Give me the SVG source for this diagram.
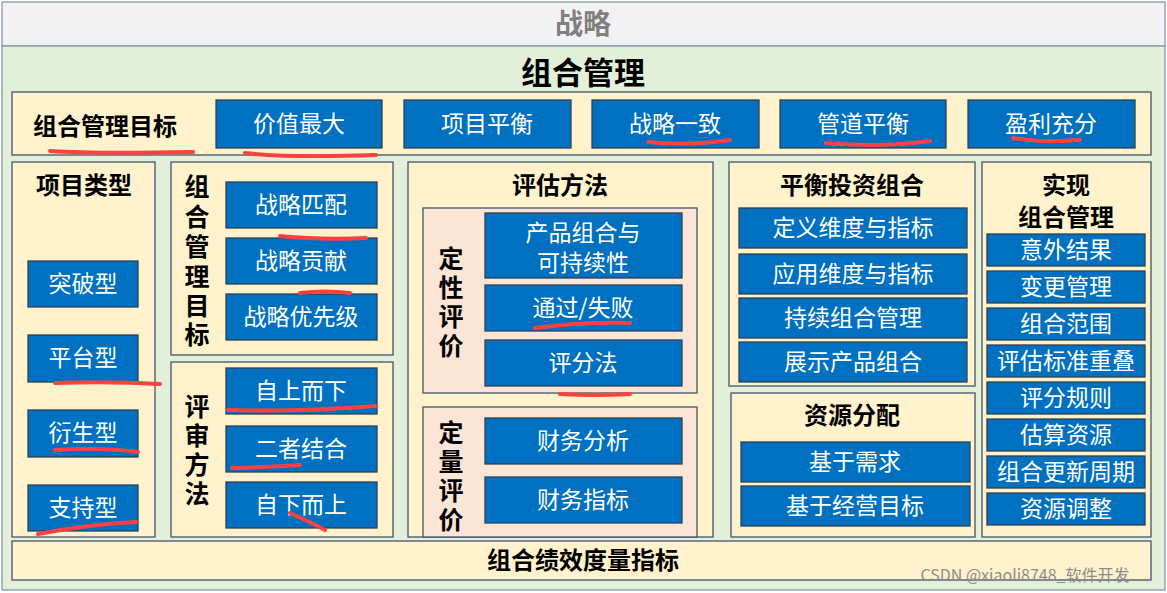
<svg xmlns="http://www.w3.org/2000/svg" width="1167" height="593" viewBox="0 0 1167 593">
<style>
text{font-family:"Noto Sans CJK SC","Liberation Sans",sans-serif;text-anchor:middle;dominant-baseline:central}
.y{fill:#fff2cc;stroke:#44546a;stroke-width:1.3}
.p{fill:#fbe5d6;stroke:#44546a;stroke-width:1.3}
.b{fill:#0070c0;stroke:#2f3f52;stroke-width:1.3}
.bt{fill:#fff;font-size:23px}
.h{fill:#000;font-size:24px;font-weight:bold}
.v{fill:#000;font-size:25px;font-weight:bold}
.r{fill:none;stroke:#ff4040;stroke-width:4;stroke-linecap:round}
</style>
<rect width="1167" height="593" fill="#fff"/>
<g id="title"><rect x="2" y="2" width="1163" height="44" fill="#f2f2f2" stroke="#8496b0" stroke-width="1.3"/><text x="583" y="22" font-size="28" font-weight="bold" fill="#7f7f7f">战略</text></g>
<g id="main"><rect x="2" y="46" width="1163" height="544" fill="#e2efd9" stroke="#8496b0" stroke-width="1.3"/><text x="583" y="70" font-size="31" font-weight="bold">组合管理</text></g>
<g id="goals"><rect class="y" x="12" y="92" width="1139" height="63"/><text class="h" x="105" y="124">组合管理目标</text>
<rect class="b" x="216" y="100" width="166" height="48"/><text class="bt" x="299" y="122">价值最大</text>
<rect class="b" x="404" y="100" width="167" height="48"/><text class="bt" x="487" y="122">项目平衡</text>
<rect class="b" x="592" y="100" width="167" height="48"/><text class="bt" x="675" y="122">战略一致</text>
<rect class="b" x="780" y="100" width="166" height="48"/><text class="bt" x="863" y="122">管道平衡</text>
<rect class="b" x="968" y="100" width="167" height="48"/><text class="bt" x="1051" y="122">盈利充分</text></g>
<g id="types"><rect class="y" x="12" y="162" width="143" height="375"/><text class="h" x="84" y="183">项目类型</text>
<rect class="b" x="28" y="261" width="110" height="46"/><text class="bt" x="83" y="282">突破型</text>
<rect class="b" x="28" y="335" width="110" height="47"/><text class="bt" x="83" y="356">平台型</text>
<rect class="b" x="28" y="410" width="110" height="47"/><text class="bt" x="83" y="431">衍生型</text>
<rect class="b" x="28" y="485" width="110" height="46"/><text class="bt" x="83" y="506">支持型</text></g>
<g id="goals2"><rect class="y" x="171" y="162" width="222" height="193"/>
<text class="v" x="197" y="185">组</text><text class="v" x="197" y="215">合</text><text class="v" x="197" y="245">管</text><text class="v" x="197" y="275">理</text><text class="v" x="197" y="304">目</text><text class="v" x="197" y="333">标</text>
<rect class="b" x="226" y="182" width="151" height="46"/><text class="bt" x="301" y="203">战略匹配</text>
<rect class="b" x="226" y="238" width="151" height="46"/><text class="bt" x="301" y="259">战略贡献</text>
<rect class="b" x="226" y="294" width="151" height="46"/><text class="bt" x="301" y="315">战略优先级</text></g>
<g id="review"><rect class="y" x="171" y="362" width="222" height="175"/>
<text class="v" x="197" y="405">评</text><text class="v" x="197" y="434">审</text><text class="v" x="197" y="463">方</text><text class="v" x="197" y="492">法</text>
<rect class="b" x="226" y="368" width="151" height="46"/><text class="bt" x="301" y="389">自上而下</text>
<rect class="b" x="226" y="426" width="151" height="46"/><text class="bt" x="301" y="447">二者结合</text>
<rect class="b" x="226" y="482" width="151" height="46"/><text class="bt" x="301" y="503">自下而上</text></g>
<g id="eval"><rect class="y" x="408" y="162" width="305" height="375"/><text class="h" x="560" y="183">评估方法</text>
<rect class="p" x="423" y="208" width="274" height="185"/>
<text class="v" x="451" y="257">定</text><text class="v" x="451" y="286">性</text><text class="v" x="451" y="315">评</text><text class="v" x="451" y="344">价</text>
<rect class="b" x="485" y="213" width="197" height="65"/><text class="bt" x="583" y="231">产品组合与</text><text class="bt" x="583" y="261">可持续性</text>
<rect class="b" x="485" y="285" width="197" height="46"/><text class="bt" x="583" y="306">通过/失败</text>
<rect class="b" x="485" y="340" width="197" height="46"/><text class="bt" x="583" y="361">评分法</text>
<rect class="p" x="423" y="407" width="274" height="130"/>
<text class="v" x="451" y="431">定</text><text class="v" x="451" y="460">量</text><text class="v" x="451" y="489">评</text><text class="v" x="451" y="518">价</text>
<rect class="b" x="485" y="418" width="197" height="46"/><text class="bt" x="583" y="439">财务分析</text>
<rect class="b" x="485" y="477" width="197" height="46"/><text class="bt" x="583" y="498">财务指标</text></g>
<g id="balance"><rect class="y" x="729" y="162" width="246" height="224"/><text class="h" x="852" y="183">平衡投资组合</text>
<rect class="b" x="739" y="208" width="228" height="40"/><text class="bt" x="853" y="226">定义维度与指标</text>
<rect class="b" x="739" y="254" width="228" height="40"/><text class="bt" x="853" y="272">应用维度与指标</text>
<rect class="b" x="739" y="298" width="228" height="40"/><text class="bt" x="853" y="316">持续组合管理</text>
<rect class="b" x="739" y="342" width="228" height="40"/><text class="bt" x="853" y="360">展示产品组合</text></g>
<g id="resource"><rect class="y" x="731" y="393" width="244" height="144"/><text class="h" x="852" y="413">资源分配</text>
<rect class="b" x="741" y="442" width="229" height="40"/><text class="bt" x="855" y="460">基于需求</text>
<rect class="b" x="741" y="486" width="229" height="40"/><text class="bt" x="855" y="504">基于经营目标</text></g>
<g id="realize"><rect class="y" x="982" y="162" width="169" height="375"/><text class="h" x="1066" y="183">实现</text><text class="h" x="1066" y="215">组合管理</text>
<rect class="b" x="987" y="234" width="158" height="32"/><text class="bt" x="1066" y="248" font-size="21">意外结果</text>
<rect class="b" x="987" y="271" width="158" height="32"/><text class="bt" x="1066" y="285" font-size="21">变更管理</text>
<rect class="b" x="987" y="308" width="158" height="32"/><text class="bt" x="1066" y="322" font-size="21">组合范围</text>
<rect class="b" x="987" y="345" width="158" height="32"/><text class="bt" x="1066" y="359" font-size="21">评估标准重叠</text>
<rect class="b" x="987" y="382" width="158" height="32"/><text class="bt" x="1066" y="396" font-size="21">评分规则</text>
<rect class="b" x="987" y="419" width="158" height="32"/><text class="bt" x="1066" y="433" font-size="21">估算资源</text>
<rect class="b" x="987" y="456" width="158" height="32"/><text class="bt" x="1066" y="470" font-size="21">组合更新周期</text>
<rect class="b" x="987" y="493" width="158" height="32"/><text class="bt" x="1066" y="507" font-size="21">资源调整</text></g>
<g id="metrics"><rect class="y" x="12" y="541" width="1139" height="39"/><text class="h" x="583" y="558">组合绩效度量指标</text></g>
<g id="connectors">
<path class="r" d="M50 151 Q95 154 193 152"/>
<path class="r" d="M245 153 Q290 158 376 155"/>
<path class="r" d="M648 142 Q690 146 730 140"/>
<path class="r" d="M826 143 Q880 148 930 141"/>
<path class="r" d="M1013 138 Q1045 143 1080 140"/>
<path class="r" d="M280 236 Q320 240 366 238"/>
<path class="r" d="M300 293 Q325 290 350 293"/>
<path class="r" d="M55 383 Q110 381 160 384"/>
<path class="r" d="M55 450 Q100 447 138 452"/>
<path class="r" d="M38 534 Q90 524 136 522"/>
<path class="r" d="M228 410 Q300 412 375 406"/>
<path class="r" d="M232 468 Q270 467 300 465"/>
<path class="r" d="M290 513 Q310 522 325 530"/>
<path class="r" d="M535 328 Q580 322 630 323"/>
<path class="r" d="M560 394 Q595 396 630 394"/>
</g>
<text x="1025" y="574" font-size="16" fill="#8c8c8c">CSDN @xiaoli8748_软件开发</text>
</svg>
